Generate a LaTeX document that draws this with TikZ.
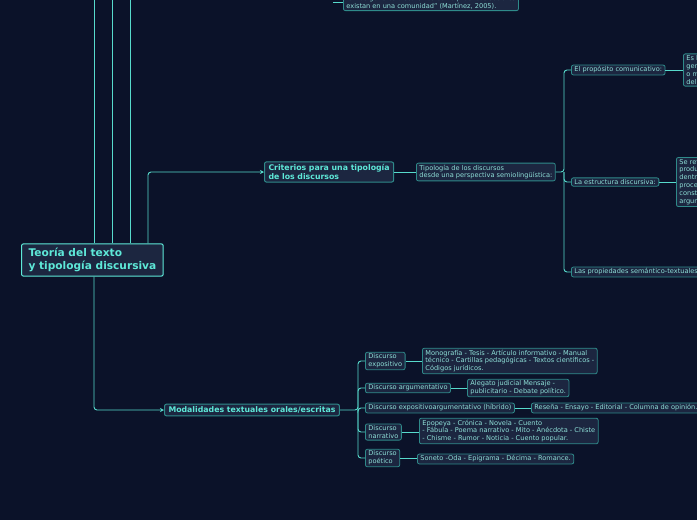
\documentclass[tikz,border=0pt]{standalone}
\usepackage{fontspec}
\setmainfont{DejaVu Sans}
\usetikzlibrary{positioning, arrows.meta}
\definecolor{fondo}{HTML}{0B1229}
\definecolor{relleno}{HTML}{1C2640}
\definecolor{borde}{HTML}{2F8A8A}
\definecolor{brillo}{HTML}{5EE8D8}
\definecolor{texto}{HTML}{8FE0D8}
\tikzset{
  rootbox/.style={draw=brillo, line width=1pt, fill=relleno, rounded corners=2pt, text=brillo, font=\bfseries\fontsize{10.6}{13.5}\selectfont, align=left, anchor=west, inner xsep=7pt, inner ysep=4pt},
  mainbox/.style={draw=borde, line width=1pt, fill=relleno, rounded corners=2pt, text=brillo, font=\bfseries\fontsize{7.8}{8.8}\selectfont, align=left, anchor=west, inner xsep=4pt, inner ysep=2.5pt},
  subbox/.style={draw=borde, line width=0.8pt, fill=relleno, rounded corners=2pt, text=texto, font=\fontsize{6.6}{7.9}\selectfont, align=left, anchor=west, inner xsep=3pt, inner ysep=1.6pt},
  conn/.style={draw=brillo!85!borde, line width=0.9pt, rounded corners=3pt},
  flecha/.style={conn, -{Stealth[length=4pt,width=4pt]}}
}
\begin{document}
\begin{tikzpicture}[x=1pt, y=-1pt]
  \fill[fondo] (0,0) rectangle (697,520);
  \useasboundingbox (0,0) rectangle (697,520);
  \clip (0,0) rectangle (697,520);

  % Nodo central
  \node[rootbox] (teoria) at (21,260) {Teoría del texto\\y tipología discursiva};
  \coordinate (l1) at (94,0);
  \coordinate (l2) at (112,0);
  \coordinate (l3) at (130,0);
  \coordinate (l4) at (148,0);
  \draw[conn] (teoria.north -| l1) -- (l1);
  \draw[conn] (teoria.north -| l2) -- (l2);
  \draw[conn] (teoria.north -| l3) -- (l3);

  % Nodo superior (cortado)
  \node[subbox] (cita) at (343,2) {tantos géneros discursivos como prácticas sociales\\existan en una comunidad" (Martínez, 2005).};
  \coordinate (c0) at (333,2);
  \draw[conn] (c0) -- (cita.west);

  % Criterios
  \node[mainbox] (criterios) at (264,172) {Criterios para una tipología\\de los discursos};
  \draw[flecha] (teoria.north -| l4) |- (criterios.west);
  \node[subbox] (semio) at (416,172) {Tipología de los discursos\\desde una perspectiva semiolingüística:};
  \draw[conn] (criterios.east) -- (semio.west);

  \node[subbox] (proposito) at (571,70) {El propósito comunicativo:};
  \node[subbox] (estructura) at (571,182) {La estructura discursiva:};
  \node[subbox] (propiedades) at (571,272) {Las propiedades semántico-textuales};
  \coordinate (b1) at (564,172);
  \draw[conn] (semio.east) -- (b1) |- (proposito.west);
  \draw[conn] (b1) |- (estructura.west);
  \draw[conn] (b1) |- (propiedades.west);

  \node[subbox] (esla) at (683,70) {Es la intención\\general\\o meta\\del hablante};
  \node[subbox] (sere) at (676,182) {Se refiere\\producción\\dentro del\\proceso\\constructivo\\argumentativo};
  \draw[conn] (proposito.east) -- (esla.west);
  \draw[conn] (estructura.east) -- (sere.west);

  % Modalidades
  \node[mainbox] (modalidades) at (164,410) {Modalidades textuales orales/escritas};
  \draw[flecha] (teoria.south -| l1) |- (modalidades.west);

  \node[subbox] (expositivo) at (365,361) {Discurso\\expositivo};
  \node[subbox] (argumentativo) at (365,388) {Discurso argumentativo};
  \node[subbox] (hibrido) at (365,408) {Discurso expositivoargumentativo (híbrido)};
  \node[subbox] (narrativo) at (365,432) {Discurso\\narrativo};
  \node[subbox] (poetico) at (365,458) {Discurso\\poético};
  \coordinate (b2) at (358,410);
  \draw[conn] (modalidades.east) -- (b2) |- (expositivo.west);
  \draw[conn] (b2) |- (argumentativo.west);
  \draw[conn] (b2) |- (hibrido.west);
  \draw[conn] (b2) |- (narrativo.west);
  \draw[conn] (b2) |- (poetico.west);

  \node[subbox] (ejexp) at (422,361) {Monografía - Tesis - Artículo informativo - Manual\\técnico - Cartillas pedagógicas - Textos científicos -\\Códigos jurídicos.};
  \node[subbox] (ejarg) at (467,388) {Alegato judicial Mensaje -\\publicitario - Debate político.};
  \node[subbox] (ejhib) at (531,408) {Reseña - Ensayo - Editorial - Columna de opinión.};
  \node[subbox] (ejnar) at (419,431) {Epopeya - Crónica - Novela - Cuento\\- Fábula - Poema narrativo - Mito - Anécdota - Chiste\\- Chisme - Rumor - Noticia - Cuento popular.};
  \node[subbox] (ejpoe) at (417,459) {Soneto -Oda - Epigrama - Décima - Romance.};
  \draw[conn] (expositivo.east) -- (ejexp.west |- expositivo.east);
  \draw[conn] (argumentativo.east) -- (ejarg.west |- argumentativo.east);
  \draw[conn] (hibrido.east) -- (ejhib.west);
  \draw[conn] (narrativo.east) -- (ejnar.west |- narrativo.east);
  \draw[conn] (poetico.east) -- (ejpoe.west |- poetico.east);
\end{tikzpicture}
\end{document}
